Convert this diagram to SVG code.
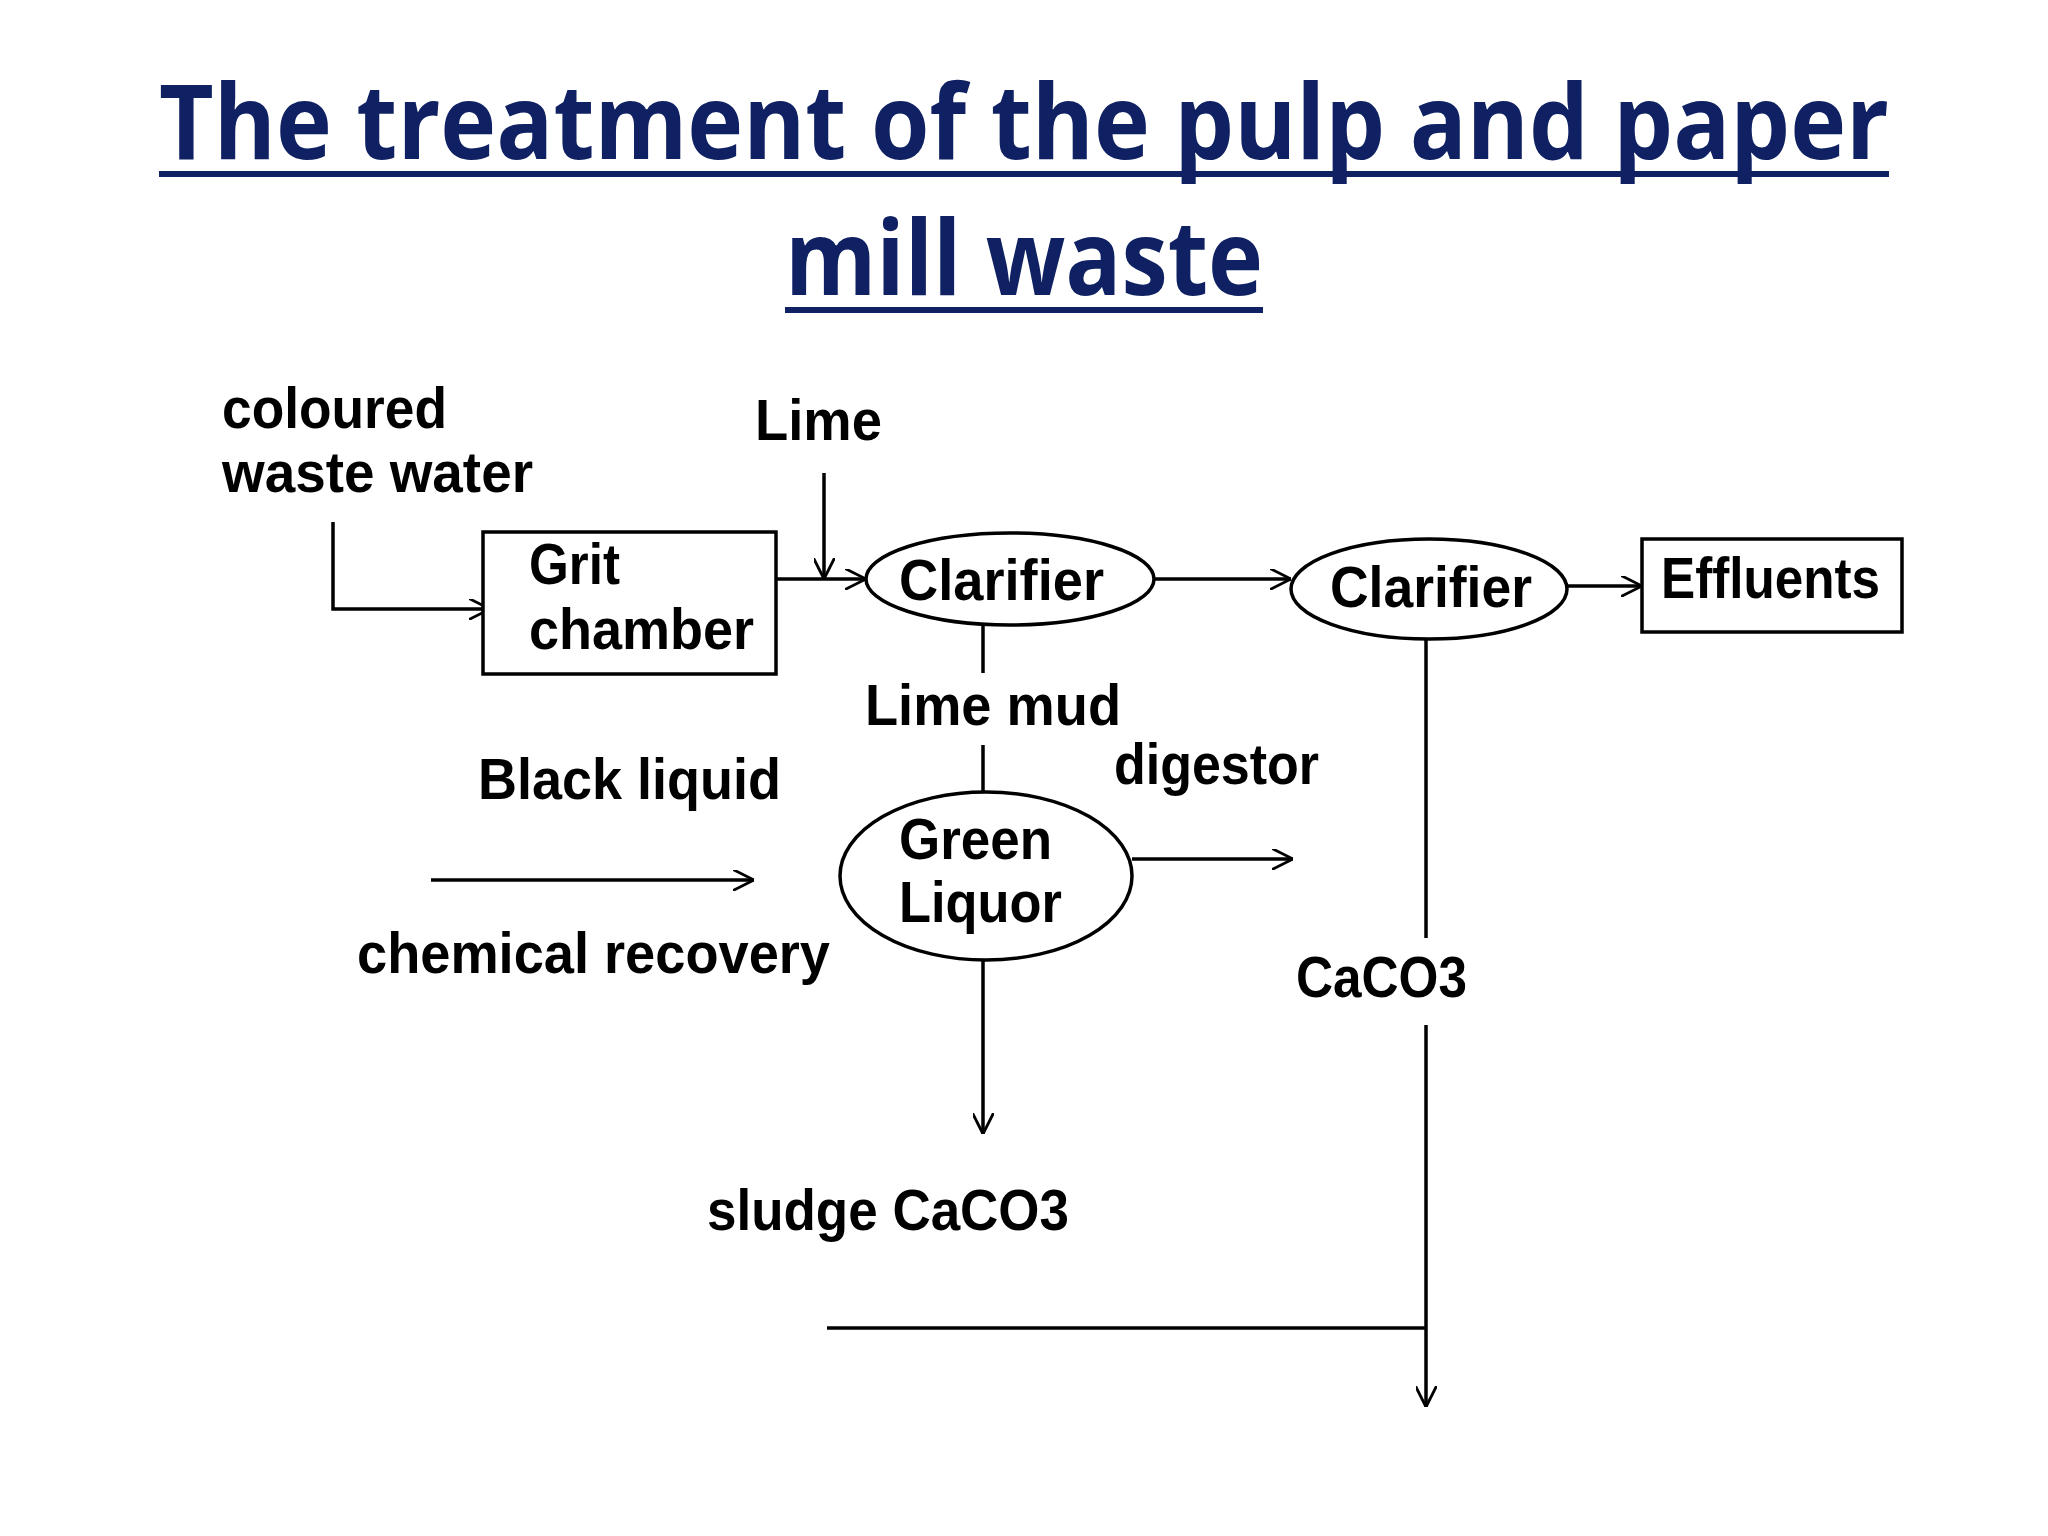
<svg xmlns="http://www.w3.org/2000/svg" width="2048" height="1536" viewBox="0 0 2048 1536">
<style>
.title{font-family:"Open Sans","Liberation Sans",sans-serif;font-weight:bold;font-size:104px;fill:#0f2163}
.ul{stroke:#0f2163;stroke-width:6}
.lbl{font-family:"Liberation Sans",Arial,sans-serif;font-weight:bold;font-size:57px;fill:#000}
.shape{fill:#fff;stroke:#000;stroke-width:3.5}
.con{fill:none;stroke:#000;stroke-width:3.5}
</style>
<defs>
<marker id="arr" viewBox="0 0 12 12" refX="12" refY="6" markerWidth="6" markerHeight="6" markerUnits="strokeWidth" orient="auto">
<path d="M0,0 L12,6 L0,12" fill="none" stroke="#000" stroke-width="1.6"/>
</marker>
</defs>
<rect width="2048" height="1536" fill="#fff"/>
<g id="title">
<text class="title" x="159" y="159" textLength="1730" lengthAdjust="spacingAndGlyphs">The treatment of the pulp and paper</text>
<line class="ul" x1="159" y1="174" x2="1889" y2="174"/>
<text class="title" x="785" y="295" textLength="478" lengthAdjust="spacingAndGlyphs">mill waste</text>
<line class="ul" x1="785" y1="310" x2="1263" y2="310"/>
</g>
<g id="connectors">
<polyline class="con" points="333,522 333,609 490,609" marker-end="url(#arr)"/>
<line class="con" x1="824" y1="473" x2="824" y2="579" marker-end="url(#arr)"/>
<line class="con" x1="776" y1="579" x2="866" y2="579" marker-end="url(#arr)"/>
<line class="con" x1="1154" y1="579" x2="1291" y2="579" marker-end="url(#arr)"/>
<line class="con" x1="1567" y1="586" x2="1642" y2="586" marker-end="url(#arr)"/>
<line class="con" x1="983" y1="625" x2="983" y2="673"/>
<line class="con" x1="983" y1="745" x2="983" y2="793"/>
<line class="con" x1="1132" y1="859" x2="1293" y2="859" marker-end="url(#arr)"/>
<line class="con" x1="431" y1="880" x2="754" y2="880" marker-end="url(#arr)"/>
<line class="con" x1="983" y1="960" x2="983" y2="1134" marker-end="url(#arr)"/>
<line class="con" x1="1426" y1="640" x2="1426" y2="938"/>
<line class="con" x1="1426" y1="1025" x2="1426" y2="1407" marker-end="url(#arr)"/>
<line class="con" x1="827" y1="1328" x2="1426" y2="1328"/>
</g>
<g id="grit-chamber">
<rect class="shape" x="483" y="532" width="293" height="142"/>
<text class="lbl" x="529" y="584" textLength="91" lengthAdjust="spacingAndGlyphs">Grit</text>
<text class="lbl" x="529" y="649" textLength="225" lengthAdjust="spacingAndGlyphs">chamber</text>
</g>
<g id="clarifier-1">
<ellipse class="shape" cx="1010" cy="579" rx="144" ry="46"/>
<text class="lbl" x="899" y="600" textLength="205" lengthAdjust="spacingAndGlyphs">Clarifier</text>
</g>
<g id="clarifier-2">
<ellipse class="shape" cx="1429" cy="589" rx="138" ry="50"/>
<text class="lbl" x="1330" y="607" textLength="202" lengthAdjust="spacingAndGlyphs">Clarifier</text>
</g>
<g id="effluents">
<rect class="shape" x="1642" y="539" width="260" height="93"/>
<text class="lbl" x="1661" y="598" textLength="219" lengthAdjust="spacingAndGlyphs">Effluents</text>
</g>
<g id="green-liquor">
<ellipse class="shape" cx="986" cy="876" rx="146" ry="84"/>
<text class="lbl" x="899" y="859" textLength="153" lengthAdjust="spacingAndGlyphs">Green</text>
<text class="lbl" x="899" y="922" textLength="163" lengthAdjust="spacingAndGlyphs">Liquor</text>
</g>
<g id="labels">
<text class="lbl" x="222" y="428" textLength="225" lengthAdjust="spacingAndGlyphs">coloured</text>
<text class="lbl" x="222" y="492" textLength="311" lengthAdjust="spacingAndGlyphs">waste water</text>
<text class="lbl" x="755" y="440" textLength="127" lengthAdjust="spacingAndGlyphs">Lime</text>
<text class="lbl" x="865" y="725" textLength="256" lengthAdjust="spacingAndGlyphs">Lime mud</text>
<text class="lbl" x="1114" y="784" textLength="205" lengthAdjust="spacingAndGlyphs">digestor</text>
<text class="lbl" x="478" y="799" textLength="303" lengthAdjust="spacingAndGlyphs">Black liquid</text>
<text class="lbl" x="357" y="973" textLength="473" lengthAdjust="spacingAndGlyphs">chemical recovery</text>
<text class="lbl" x="707" y="1230" textLength="362" lengthAdjust="spacingAndGlyphs">sludge CaCO3</text>
<text class="lbl" x="1296" y="997" textLength="171" lengthAdjust="spacingAndGlyphs">CaCO3</text>
</g>
</svg>
